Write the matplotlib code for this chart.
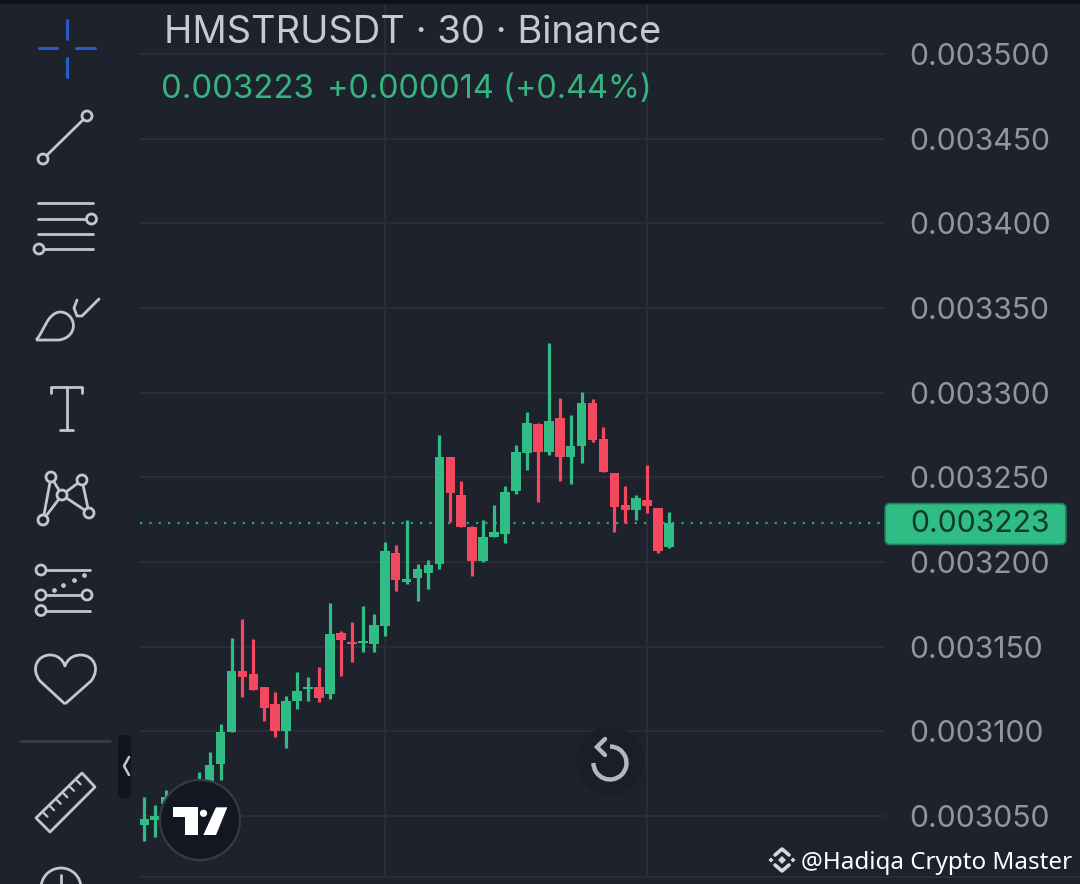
import numpy as np
import matplotlib
matplotlib.use('Agg')
import matplotlib.pyplot as plt
from matplotlib.patches import Circle, Arc, Polygon, PathPatch, FancyBboxPatch, Rectangle
from matplotlib.path import Path

# prices in millionths of USDT
opens = [3044.7, 3047.7, 3057.1, 3056.5, 3062.5, 3065.4, 3070.1, 3080.8, 3099.7, 3135.7,
         3133.9, 3126.2, 3116.2, 3100.2, 3118.0, 3125.0, 3126.2, 3122.1, 3158.1, 3152.8,
         3152.2, 3151.6, 3162.2, 3205.4, 3188.2, 3190.6, 3193.5, 3198.9, 3262.0, 3239.6,
         3220.7, 3200.6, 3214.8, 3216.6, 3242.0, 3264.4, 3281.5, 3265.0, 3285.1, 3262.0,
         3268.5, 3293.9, 3272.7, 3252.6, 3233.7, 3230.7, 3236.6, 3231.9, 3208.9]
highs = [3061.3, 3056.5, 3065.4, 3065.4, 3069.5, 3076.0, 3087.8, 3104.4, 3155.2, 3166.4,
         3154.6, 3126.2, 3123.3, 3120.9, 3135.1, 3132.1, 3138.0, 3175.8, 3159.3, 3164.6,
         3174.1, 3169.3, 3211.8, 3210.1, 3224.8, 3198.9, 3201.2, 3275.0, 3262.0, 3247.9,
         3221.3, 3224.8, 3233.7, 3244.9, 3269.1, 3288.6, 3282.1, 3329.4, 3296.9, 3286.8,
         3300.4, 3296.3, 3279.8, 3252.6, 3244.9, 3239.6, 3257.3, 3231.9, 3229.6]
lows = [3035.3, 3037.7, 3050.6, 3050.6, 3056.5, 3059.5, 3065.4, 3071.3, 3099.7, 3120.3,
        3124.5, 3106.1, 3096.7, 3090.2, 3113.2, 3118.0, 3117.4, 3119.1, 3132.7, 3141.0,
        3146.9, 3146.9, 3156.3, 3182.9, 3187.0, 3177.0, 3184.1, 3195.9, 3223.7, 3220.7,
        3191.8, 3200.0, 3214.8, 3211.3, 3240.2, 3254.4, 3235.5, 3263.2, 3247.9, 3246.1,
        3258.5, 3270.9, 3253.2, 3217.8, 3223.1, 3224.8, 3229.0, 3205.4, 3208.3]
closes = [3048.3, 3050.1, 3061.3, 3062.5, 3068.4, 3071.3, 3080.2, 3099.7, 3135.7, 3132.1,
          3124.5, 3113.8, 3100.2, 3118.0, 3123.9, 3126.2, 3119.7, 3157.5, 3154.0, 3151.6,
          3153.4, 3162.8, 3206.5, 3189.4, 3190.0, 3195.9, 3198.3, 3262.0, 3240.8, 3220.7,
          3200.6, 3214.8, 3217.8, 3241.4, 3265.0, 3282.1, 3265.0, 3283.3, 3262.0, 3268.5,
          3293.9, 3272.1, 3253.2, 3232.5, 3230.7, 3237.8, 3233.1, 3206.5, 3223.0]

price_ticks = [0.0035, 0.00345, 0.0034, 0.00335, 0.0033, 0.00325, 0.0032, 0.00315, 0.0031, 0.00305]
time_ticks = [22, 46]
last_price = 0.003223

BG = '#1e222d'
GRID = '#2a2e39'
GREEN = '#2fbd85'
RED = '#f4485e'
LABEL = '#91959e'
ICON = '#c3c6ce'

plt.rcParams['font.family'] = ['Inter', 'DejaVu Sans']

W, H = 1080, 884
fig = plt.figure(figsize=(W / 100, H / 100), dpi=100, facecolor=BG)

# chart area is 140..884 px wide, 0..877 px down
ax = fig.add_axes([140 / W, (H - 877) / H, 744 / W, 877 / H], facecolor=BG)
o = np.array(opens) / 1e6
h = np.array(highs) / 1e6
l = np.array(lows) / 1e6
c = np.array(closes) / 1e6
idx = np.arange(len(o))
colors = [GREEN if c[i] >= o[i] else RED for i in idx]

ax.vlines(idx, l, h, colors=colors, linewidth=2.3, zorder=3)
ax.bar(idx, np.maximum(np.abs(c - o), 1e-6), bottom=np.minimum(o, c), width=0.88, color=colors, zorder=4)
ax.axhline(last_price, color=GREEN, alpha=0.85, linewidth=1.6, linestyle=(0, (1, 3.2)), zorder=2)

ax.set_xlim(-0.366, 67.64)
ax.set_ylim(3014.0e-6, 3531.9e-6)
ax.set_xticks(time_ticks)
ax.set_xticklabels([])
ax.set_yticks(price_ticks)
ax.set_yticklabels(['%.6f' % p for p in price_ticks])
ax.yaxis.tick_right()
ax.tick_params(axis='y', length=0, pad=18.5, labelsize=21.7, labelcolor=LABEL)
ax.tick_params(axis='x', length=0)
ax.grid(True, color=GRID, linewidth=1.4, zorder=0)
for s in ['top', 'left', 'right']:
    ax.spines[s].set_visible(False)
ax.spines['bottom'].set_color(GRID)
ax.spines['bottom'].set_linewidth(1.4)

# overlay in pixel coordinates for header and app chrome
ov = fig.add_axes([0, 0, 1, 1], facecolor='none')
ov.set_xlim(0, W)
ov.set_ylim(H, 0)
ov.axis('off')


def stroke(xs, ys, color=ICON, lw=2.0):
    ov.plot(xs, ys, color=color, linewidth=lw, solid_capstyle='round', solid_joinstyle='round')


def ring(x, y, r=5.0, color=ICON, lw=2.0):
    ov.add_patch(Circle((x, y), r, facecolor=BG, edgecolor=color, linewidth=lw, zorder=5))


ov.add_patch(Rectangle((0, 0), W, 2.5, color='#0e1117'))
stroke([884, W], [877, 877], GRID, 1.4)

ov.text(164, 43, 'HMSTRUSDT · 30 · Binance', fontsize=27.4, color='#c6c9d1', va='baseline')
ov.text(161, 98, '0.003223', fontsize=23.7, color='#34b47e', va='baseline')
ov.text(327, 98, '+0.000014 (+0.44%)', fontsize=23.4, color='#34b47e', va='baseline')

# price tag
ov.add_patch(FancyBboxPatch((885, 503.5), 181, 41, boxstyle='round,pad=0,rounding_size=5',
                            facecolor=GREEN, edgecolor='#1f7a58', linewidth=1.2))
ov.text(980, 524, '0.003223', fontsize=21.7, color='#0f3a2b', ha='center', va='center')

# crosshair
blue = '#2b5bc4'
stroke([66.5, 66.5], [20, 39], blue, 2.2)
stroke([66.5, 66.5], [58, 77], blue, 2.2)
stroke([39, 57], [48, 48], blue, 2.2)
stroke([76, 95], [48, 48], blue, 2.2)

# trend line
stroke([43, 87], [159, 116])
ring(43, 159)
ring(87, 116)

# channel
stroke([38, 93], [203, 203])
stroke([38, 90], [219, 219])
stroke([38, 93], [234, 234])
stroke([40, 93], [249, 249])
ring(91.5, 219)
ring(39, 249)

# brush
brush = Path([(36, 340), (44, 332), (47, 313), (60, 312), (70, 312), (75, 322), (73, 329),
              (71, 336), (64, 340), (58, 340), (36, 340)],
             [Path.MOVETO] + [Path.CURVE4] * 9 + [Path.LINETO])
ov.add_patch(PathPatch(brush, facecolor='none', edgecolor=ICON, linewidth=2.0, joinstyle='round'))
stroke([77, 74, 77, 82, 99], [300, 308, 316, 316, 299])

# text tool
stroke([51, 51, 82, 82], [393, 387, 387, 393])
stroke([66.5, 66.5], [387, 430])
stroke([60, 73], [430, 430])

# pattern tool
A, B, C, D, E = (51, 477), (82, 480), (62, 495), (43, 520), (89, 513)
for p, q in [(A, D), (A, C), (C, D), (C, B), (B, E), (C, E)]:
    stroke([p[0], q[0]], [p[1], q[1]])
for p in (A, B, C, D, E):
    ring(p[0], p[1])

# fib tool
stroke([46, 90], [570, 570])
stroke([46, 82], [595, 595])
stroke([46, 90], [610.5, 610.5])
ring(41, 570)
ring(41, 595)
ring(87, 595)
ring(41, 610.5)
ov.plot([54, 63, 74, 84], [590, 585, 580, 575], linestyle='none', marker='o', markersize=2.4, color=ICON)

# heart
heart = Path([(65, 704), (40, 681), (30, 668), (38, 655), (50, 655), (58, 655), (63, 660), (65, 666),
              (67, 660), (72, 655), (81, 655), (93, 655), (101, 668), (91, 681), (65, 704)],
             [Path.MOVETO, Path.LINETO] + [Path.CURVE4] * 12 + [Path.LINETO])
ov.add_patch(PathPatch(heart, facecolor='none', edgecolor=ICON, linewidth=2.0, joinstyle='round'))

stroke([20, 110], [741, 741], '#3b3f4a', 1.8)

# collapse tab
ov.add_patch(FancyBboxPatch((118, 735), 13, 63, boxstyle='round,pad=0,rounding_size=4', facecolor='#12151d', edgecolor='none'))
stroke([129, 124, 129], [757, 766, 775], ICON, 1.8)

# ruler
ov.add_patch(Polygon([(82, 773), (95, 787), (50, 832), (36, 818)], closed=True, facecolor='none',
                     edgecolor=ICON, linewidth=2.0, joinstyle='round'))
for t in np.linspace(0.14, 0.86, 6):
    x0 = 36 + t * 46
    y0 = 818 - t * 45
    stroke([x0, x0 + 5], [y0, y0 + 5], ICON, 1.6)

# clock cut by the frame
ov.add_patch(Circle((61, 888), 20, facecolor='none', edgecolor=ICON, linewidth=2.0))
stroke([61, 61], [875, 884])

# logo button
ov.add_patch(Circle((200, 820), 40, facecolor='#131722', edgecolor='#363a44', linewidth=1.6, zorder=6))
ov.add_patch(Polygon([(172.7, 807.3), (198, 807.3), (198, 835), (185, 835), (185, 817.3), (172.7, 817.3)],
                     closed=True, facecolor='white', edgecolor='none', zorder=7))
ov.add_patch(Circle((203.5, 813.3), 3.6, facecolor='white', edgecolor='none', zorder=7))
ov.add_patch(Polygon([(216, 807.3), (227.3, 807.3), (216, 835), (203.3, 835)],
                     closed=True, facecolor='white', edgecolor='none', zorder=7))

# reset button
ov.add_patch(Circle((610, 761), 34, facecolor='#1b1e28', edgecolor='none', zorder=6))
ov.add_patch(Arc((610, 763), 33, 33, theta1=-90, theta2=180, edgecolor='#b4b7c0', linewidth=3.2, zorder=7))
ov.plot([605, 597, 605], [739, 747, 755], color='#b4b7c0', linewidth=3.2, zorder=7, solid_capstyle='round', solid_joinstyle='miter')

# watermark
wm = '#d8d8d8'
stroke([775, 782, 789], [855, 849, 855], wm, 2.6)
stroke([775, 782, 789], [865, 871, 865], wm, 2.6)
ov.add_patch(Polygon([(782, 856), (786, 860), (782, 864), (778, 860)], closed=True, facecolor=wm, edgecolor='none'))
ov.add_patch(Polygon([(771, 857.5), (773.5, 860), (771, 862.5), (768.5, 860)], closed=True, facecolor=wm, edgecolor='none'))
ov.add_patch(Polygon([(793, 857.5), (795.5, 860), (793, 862.5), (790.5, 860)], closed=True, facecolor=wm, edgecolor='none'))
ov.text(801, 869, '@Hadiqa Crypto Master', fontsize=17.45, color='white', family=['Noto Sans', 'DejaVu Sans'], va='baseline')

fig.savefig('out.png', dpi=100, facecolor=BG)
